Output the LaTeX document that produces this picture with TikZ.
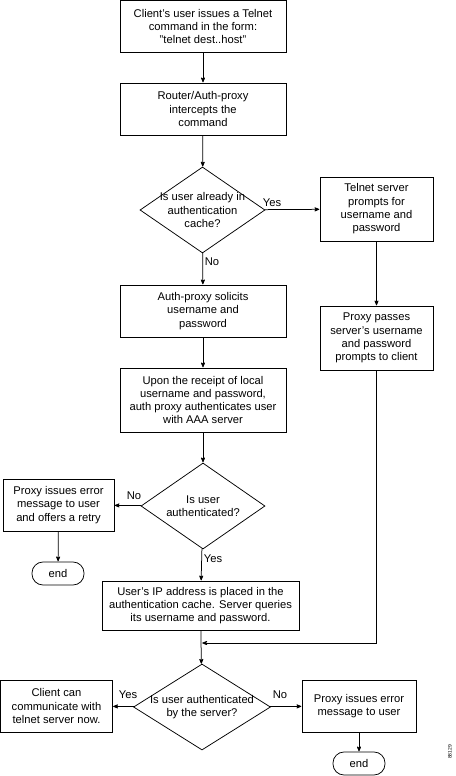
\documentclass[tikz,border=0pt]{standalone}
\usepackage{fontspec}
\setmainfont{Liberation Sans}
\usetikzlibrary{arrows}
\usetikzlibrary{shapes.geometric}

\begin{document}
\begin{tikzpicture}[x=1pt, y=-1pt, line width=0.75pt,
        every node/.style={font=\fontsize{11.2}{13.3}\selectfont},
        stepbox/.style={draw, align=center, inner sep=0pt, minimum height=52pt},
        query/.style={draw, diamond, inner sep=0pt, minimum height=86pt},
        asks/.style={align=center, inner sep=0pt},
        stop/.style={draw, rounded corners=11pt, minimum width=52pt, minimum height=23pt, inner sep=0pt},
        flow/.style={->, >=stealth', shorten >=0.3pt}]
        \useasboundingbox (0, 0) rectangle (455, 776);

        \node[stepbox, minimum width=166pt] (client) at (203, 26.5)
             {Client's user issues a Telnet\\command in the form:\\"telnet dest..host"};
        \node[stepbox, minimum width=166pt] (router) at (203, 109)
             {Router/Auth-proxy\\intercepts the\\command};
        \node[query, minimum width=125pt,
              label={[asks]center:Is user already in\\authentication\\cache?}] (cache) at (202.5, 210) {};
        \node[stepbox, minimum width=113pt, minimum height=64pt] (prompt) at (376.5, 209)
             {Telnet server\\prompts for\\username and\\password};
        \node[stepbox, minimum width=166pt] (solicit) at (203, 311)
             {Auth-proxy solicits\\username and\\password};
        \node[stepbox, minimum width=113pt, minimum height=64pt] (pass) at (376.5, 338)
             {Proxy passes\\server's username\\and password\\prompts to client};
        \node[stepbox, minimum width=166pt, minimum height=64pt] (receipt) at (203, 400)
             {Upon the receipt of local\\username and password,\\auth proxy authenticates user\\with AAA server};
        \node[query, minimum width=124pt,
              label={[asks]center:Is user\\authenticated?}] (authq) at (203, 506) {};
        \node[stepbox, minimum width=111pt] (retry) at (58.5, 505)
             {Proxy issues error\\message to user\\and offers a retry};
        \node[stop] (endA) at (58, 573.5) {end};
        \node[stepbox, minimum width=197pt, minimum height=49pt] (ipcache) at (200.5, 605.5)
             {User's IP address is placed in the\\authentication cache. Server queries\\its username and password.};
        \node[query, minimum width=137pt,
              label={[asks]center:Is user authenticated\\by the server?}] (serverq) at (202, 707) {};
        \node[stepbox, minimum width=112pt] (talk) at (56.5, 706)
             {Client can\\communicate with\\telnet server now.};
        \node[stepbox, minimum width=114pt] (refuse) at (359, 706)
             {Proxy issues error\\message to user};
        \node[stop] (endB) at (359, 763.5) {end};

        \coordinate (merge) at (202, 643);

        \node (yesA) at (272, 203) {Yes};
        \node (noA) at (212, 262) {No};
        \node (noB) at (134, 496) {No};
        \node (yesB) at (213, 559) {Yes};
        \node (yesC) at (128, 695) {Yes};
        \node (noC) at (280, 695) {No};

        \draw[flow] (client) -- (router);
        \draw[flow] (router) -- (cache);
        \draw[flow] (cache) -- (prompt);
        \draw[flow] (cache) -- (solicit);
        \draw[flow] (prompt) -- (pass);
        \draw[flow] (solicit) -- (receipt);
        \draw[flow] (receipt) -- (authq);
        \draw[flow] (authq) -- (retry);
        \draw[flow] (retry) -- (endA);
        \draw[flow] (authq) -- (ipcache);
        \draw[flow] (pass.south) |- (merge);
        \draw[flow] (ipcache) -- (serverq);
        \draw[flow] (serverq) -- (talk);
        \draw[flow] (serverq) -- (refuse);
        \draw[flow] (refuse) -- (endB);

        \node[rotate=90, font=\fontsize{5}{6}\selectfont] (figno) at (450, 752) {88129};
\end{tikzpicture}
\end{document}
